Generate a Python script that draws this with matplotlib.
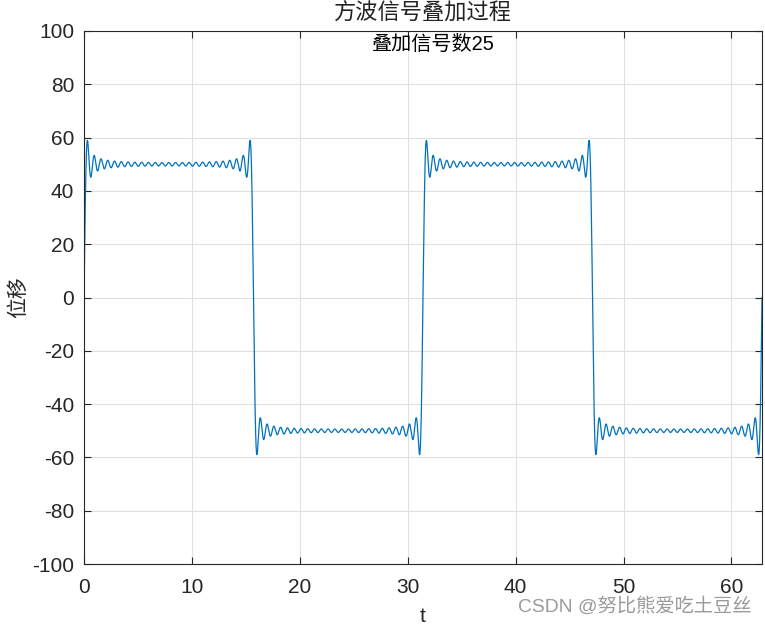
import numpy as np
import matplotlib
matplotlib.use("Agg")
import matplotlib.pyplot as plt

plt.rcParams['font.family'] = ['Liberation Sans', 'Noto Sans CJK SC', 'DejaVu Sans']
plt.rcParams['axes.unicode_minus'] = False

# square wave built from 25 odd harmonics
harmonics = [1, 3, 5, 7, 9, 11, 13, 15, 17, 19, 21, 23, 25, 27, 29,
             31, 33, 35, 37, 39, 41, 43, 45, 47, 49]
amplitude = 50
omega = 0.2
t_end = 20 * np.pi
n_terms = len(harmonics)

x_ticks = [0, 10, 20, 30, 40, 50, 60]
y_ticks = [-100, -80, -60, -40, -20, 0, 20, 40, 60, 80, 100]

t = np.linspace(0, t_end, 6000)
y = np.zeros_like(t)
for n in harmonics:
    y += 4 * amplitude / np.pi * np.sin(n * omega * t) / n

fig = plt.figure(figsize=(7.65, 6.28), dpi=100)
ax = fig.add_axes([84 / 765, 1 - 564 / 628, (762 - 84) / 765, (564 - 31) / 628])

ax.plot(t, y, color='#0072BD', lw=0.9)
ax.set_xlim(0, t_end)
ax.set_ylim(-100, 100)
ax.set_xticks(x_ticks)
ax.set_yticks(y_ticks)
ax.grid(True, color='#e0e0e0', lw=0.8)
ax.tick_params(labelsize=15, direction='in', length=5, width=0.8,
               top=True, right=True, colors='#262626')
ax.tick_params(axis='x', pad=10)
ax.tick_params(axis='y', pad=7)
for s in ax.spines.values():
    s.set_color('#262626')
    s.set_linewidth(0.8)

ax.set_xlabel('t', fontsize=15, color='#262626', va='center')
ax.set_ylabel('位移', fontsize=15, color='#262626', va='center')
ax.xaxis.set_label_coords(0.5, (564 - 617) / 533)
ax.yaxis.set_label_coords((18 - 84) / 678, 0.5)

fig.text(423 / 765, 1 - 14 / 628, '方波信号叠加过程', ha='center', va='center',
         fontsize=16, color='#222222')
fig.text(433 / 765, 1 - 44 / 628, '叠加信号数' + str(n_terms), ha='center', va='center',
         fontsize=14.5, color='black')
fig.text(751 / 765, 1 - 607 / 628, 'CSDN @努比熊爱吃土豆丝', ha='right', va='center',
         fontsize=13.9, color='#9a9a9a')

fig.savefig('out.png', dpi=100)
